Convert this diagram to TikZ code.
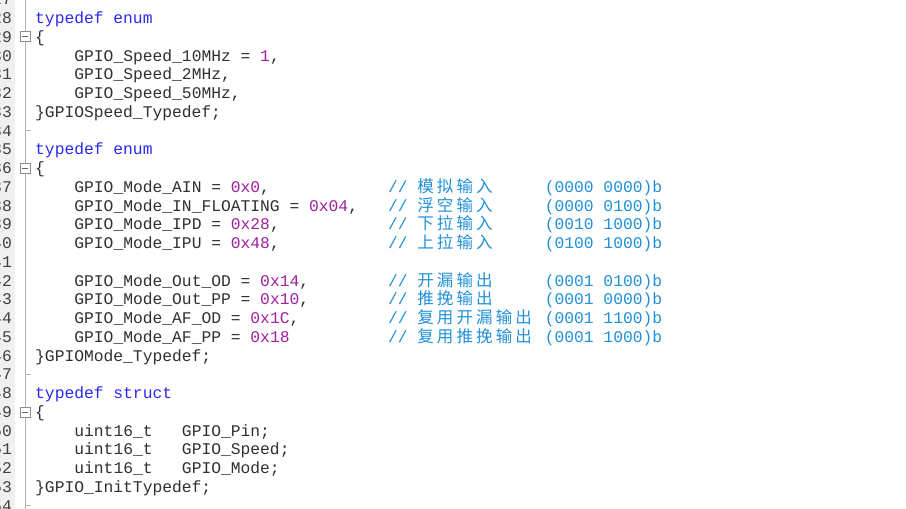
\documentclass[tikz,border=0pt]{standalone}
\usepackage{fontspec}
\setmonofont{Liberation Mono}
\newfontfamily\cjk{Noto Sans CJK SC}
\definecolor{kw}{HTML}{2A2AF0}
\definecolor{num}{HTML}{A020A0}
\definecolor{cm}{HTML}{2090D8}
\definecolor{tx}{HTML}{303030}
\newcommand{\cc}[1]{\makebox[19.6pt][l]{#1}}
\newcommand{\cl}[4]{\node[code,text=#3] (r#1c#2) at ({35+#2*9.8},{-(23.5+(#1-28)*18.76)}) {#4};}
\newcommand{\zh}[2]{\node[code,text=cm,font=\cjk\fontsize{16.5}{18}\selectfont] (z#1) at ({35+39*9.8},{-(23.5+(#1-28)*18.76)}) {#2};}
\begin{document}
\begin{tikzpicture}[x=1pt,y=1pt,
  code/.style={anchor=base west,inner sep=0pt,font=\ttfamily\fontsize{16.3}{18}\selectfont},
  lnum/.style={anchor=base east,inner sep=0pt,text=black!75,font=\ttfamily\fontsize{16.3}{18}\selectfont},
  fold/.style={draw=black!45,line width=0.7pt}]
\useasboundingbox (0,0) rectangle (906,-509);
\fill[white] (0,0) rectangle (906,-509);
\fill[black!6] (0,0) rectangle (15,-509);
\foreach \n in {27,...,54}{
  \node[lnum] (ln\n) at (12,{-(23.5+(\n-28)*18.76)}) {\n};}
\fill[white] (15,0) rectangle (24,-509);
% fold line
\draw[black!30,line width=0.7pt] (25,0) -- (25,-509);
\foreach \n in {34,47,54}{
  \coordinate (fa\n) at (25,{-(18+(\n-28)*18.76)});
  \coordinate (fb\n) at (31,{-(18+(\n-28)*18.76)});
  \draw[black!30,line width=0.7pt] (fa\n) -- (fb\n);}
\foreach \n in {29,36,49}{
  \node[fold,fill=white,minimum size=10pt,inner sep=0pt] (fd\n) at (25,{-(18+(\n-28)*18.76)}) {};
  \draw[black!60,line width=0.7pt] ([xshift=-3pt]fd\n.center) -- ([xshift=3pt]fd\n.center);}
% code
\cl{28}{0}{kw}{typedef enum}
\cl{29}{0}{tx}{\{}
\cl{30}{4}{tx}{GPIO\_Speed\_10MHz = \textcolor{num}{1},}
\cl{31}{4}{tx}{GPIO\_Speed\_2MHz,}
\cl{32}{4}{tx}{GPIO\_Speed\_50MHz,}
\cl{33}{0}{tx}{\}GPIOSpeed\_Typedef;}
\cl{35}{0}{kw}{typedef enum}
\cl{36}{0}{tx}{\{}
\cl{37}{4}{tx}{GPIO\_Mode\_AIN = \textcolor{num}{0x0},}
\cl{38}{4}{tx}{GPIO\_Mode\_IN\_FLOATING = \textcolor{num}{0x04},}
\cl{39}{4}{tx}{GPIO\_Mode\_IPD = \textcolor{num}{0x28},}
\cl{40}{4}{tx}{GPIO\_Mode\_IPU = \textcolor{num}{0x48},}
\cl{42}{4}{tx}{GPIO\_Mode\_Out\_OD = \textcolor{num}{0x14},}
\cl{43}{4}{tx}{GPIO\_Mode\_Out\_PP = \textcolor{num}{0x10},}
\cl{44}{4}{tx}{GPIO\_Mode\_AF\_OD = \textcolor{num}{0x1C},}
\cl{45}{4}{tx}{GPIO\_Mode\_AF\_PP = \textcolor{num}{0x18}}
\cl{46}{0}{tx}{\}GPIOMode\_Typedef;}
\cl{48}{0}{kw}{typedef struct}
\cl{49}{0}{tx}{\{}
\cl{50}{4}{tx}{uint16\_t~~~GPIO\_Pin;}
\cl{51}{4}{tx}{uint16\_t~~~GPIO\_Speed;}
\cl{52}{4}{tx}{uint16\_t~~~GPIO\_Mode;}
\cl{53}{0}{tx}{\}GPIO\_InitTypedef;}
% comments
\foreach \r in {37,38,39,40,42,43,44,45}{\cl{\r}{36}{cm}{//}}
\zh{37}{\cc{模}\cc{拟}\cc{输}\cc{入}}
\zh{38}{\cc{浮}\cc{空}\cc{输}\cc{入}}
\zh{39}{\cc{下}\cc{拉}\cc{输}\cc{入}}
\zh{40}{\cc{上}\cc{拉}\cc{输}\cc{入}}
\zh{42}{\cc{开}\cc{漏}\cc{输}\cc{出}}
\zh{43}{\cc{推}\cc{挽}\cc{输}\cc{出}}
\zh{44}{\cc{复}\cc{用}\cc{开}\cc{漏}\cc{输}\cc{出}}
\zh{45}{\cc{复}\cc{用}\cc{推}\cc{挽}\cc{输}\cc{出}}
\cl{37}{52}{cm}{(0000 0000)b}
\cl{38}{52}{cm}{(0000 0100)b}
\cl{39}{52}{cm}{(0010 1000)b}
\cl{40}{52}{cm}{(0100 1000)b}
\cl{42}{52}{cm}{(0001 0100)b}
\cl{43}{52}{cm}{(0001 0000)b}
\cl{44}{52}{cm}{(0001 1100)b}
\cl{45}{52}{cm}{(0001 1000)b}
\end{tikzpicture}
\end{document}
